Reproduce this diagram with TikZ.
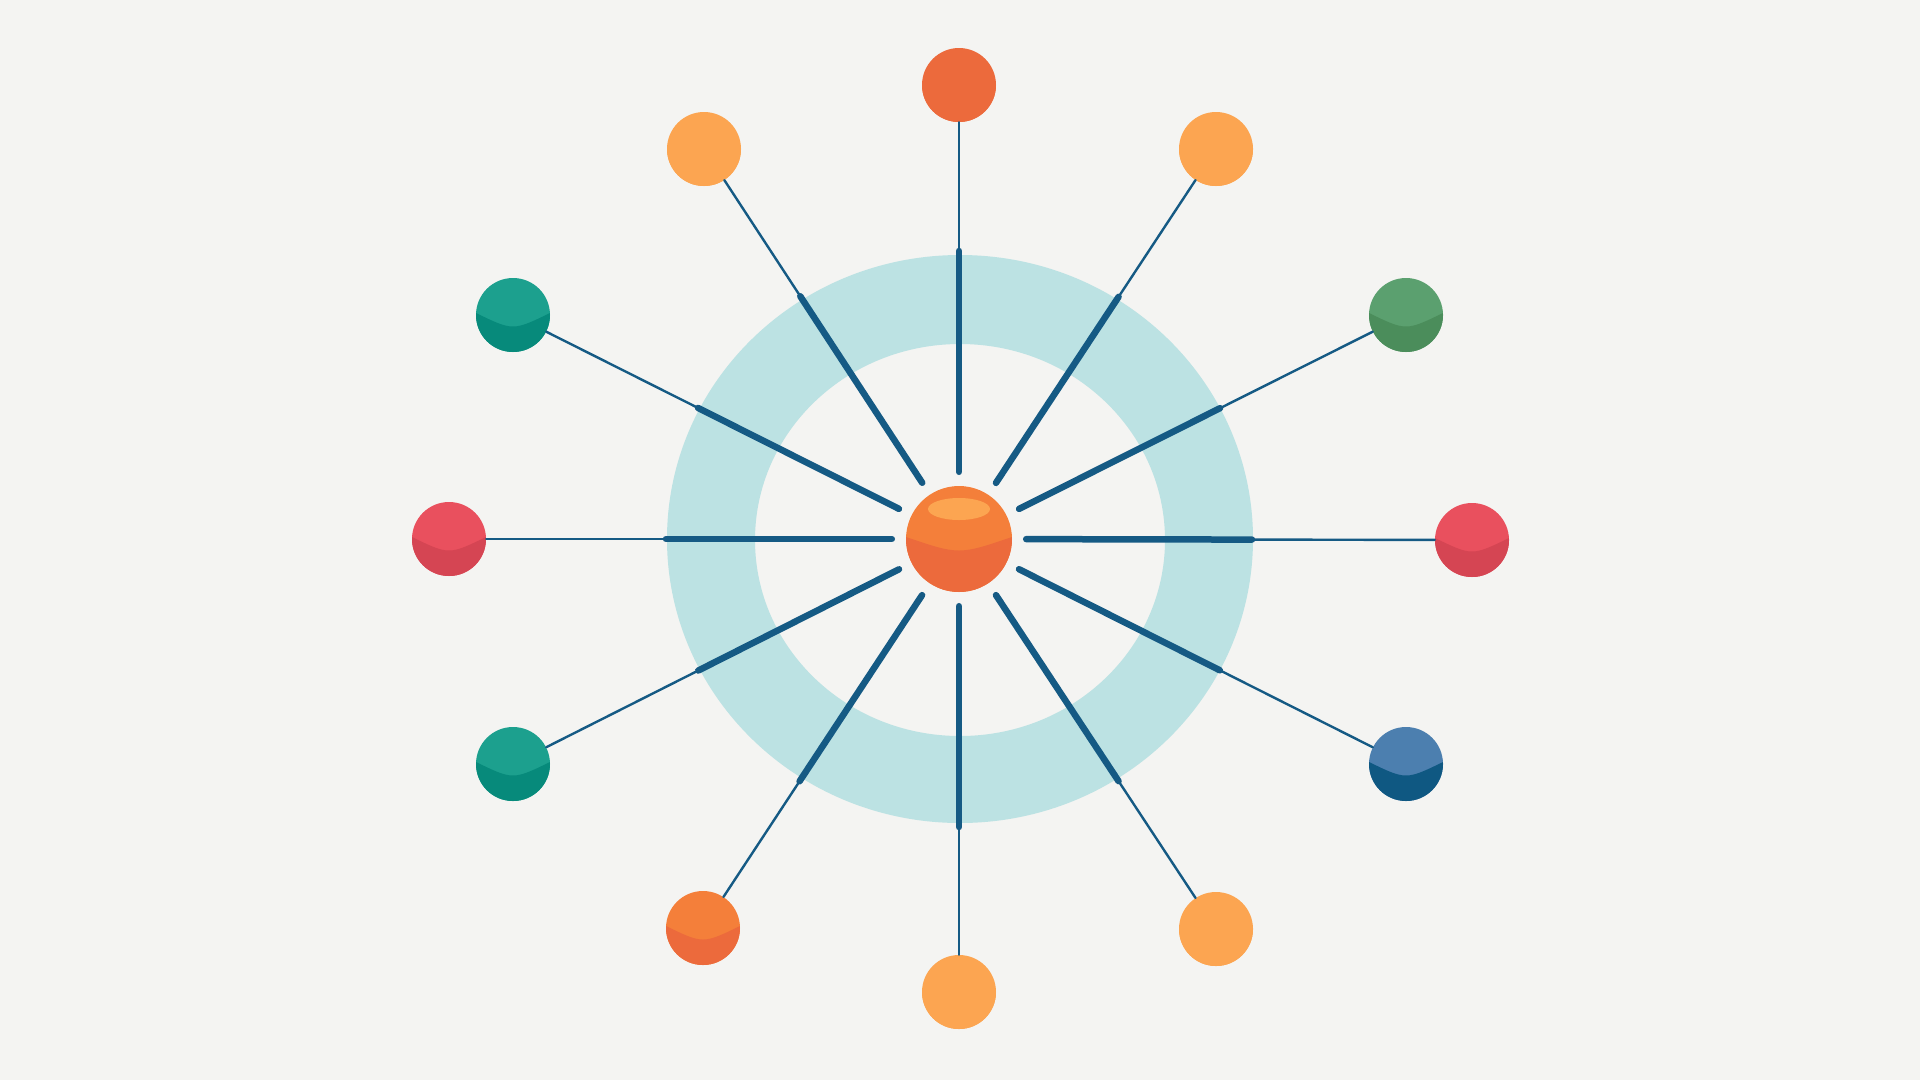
\documentclass[tikz,border=0pt]{standalone}
\usetikzlibrary{calc}

\definecolor{bgcol}{HTML}{F4F4F2}
\definecolor{ringcol}{HTML}{BCE2E3}
\definecolor{spokecol}{HTML}{155A84}
\definecolor{redorange}{HTML}{EC6A3C}
\definecolor{midorange}{HTML}{F47F3A}
\definecolor{lightorange}{HTML}{FCA551}
\definecolor{tealtop}{HTML}{1CA08E}
\definecolor{tealbot}{HTML}{078A7B}
\definecolor{greentop}{HTML}{5BA06F}
\definecolor{greenbot}{HTML}{4B8D5B}
\definecolor{pinktop}{HTML}{E9505E}
\definecolor{pinkbot}{HTML}{D54553}
\definecolor{bluetop}{HTML}{4C7FAF}
\definecolor{bluebot}{HTML}{0F5882}

\begin{document}
\begin{tikzpicture}[x=1pt,y=-1pt,line cap=round,
    ball/.style 2 args={circle,minimum size=74pt,inner sep=0pt,fill=#1,
      path picture={\fill[#2] ([yshift=2pt]path picture bounding box.west)
        .. controls ([yshift=-16pt]path picture bounding box.center) .. ([yshift=2pt]path picture bounding box.east)
        -- (path picture bounding box.south east) -- (path picture bounding box.south west) -- cycle;}},
    wire/.style={draw=spokecol,line width=2.4pt,shorten >=14pt},
    bar/.style={draw=spokecol,line width=6.5pt,shorten >=14pt}]
			% background and ring
			\fill[bgcol] (0,0) rectangle (1920,1080);
			\useasboundingbox (0,0) rectangle (1920,1080);
			\fill[ringcol,even odd rule] (960,539) ellipse [x radius=293,y radius=284]
				(960,540) ellipse [x radius=205,y radius=196];

			% hub
			\node[ball={midorange}{redorange},minimum size=106pt] (c_0) at (959,539) {};
			\fill[lightorange] (959,509) ellipse [x radius=31,y radius=11];

			% outer balls
			\node[ball={redorange}{redorange}] (c_1) at (959,85) {};
			\node[ball={lightorange}{lightorange}] (c_2) at (1216,149) {};
			\node[ball={greentop}{greenbot}] (c_3) at (1406,315) {};
			\node[ball={pinktop}{pinkbot}] (c_4) at (1472,540) {};
			\node[ball={bluetop}{bluebot}] (c_5) at (1406,764) {};
			\node[ball={lightorange}{lightorange}] (c_6) at (1216,929) {};
			\node[ball={lightorange}{lightorange}] (c_7) at (959,992) {};
			\node[ball={midorange}{redorange}] (c_8) at (703,928) {};
			\node[ball={tealtop}{tealbot}] (c_9) at (513,764) {};
			\node[ball={pinktop}{pinkbot}] (c_10) at (449,539) {};
			\node[ball={tealtop}{tealbot}] (c_11) at (513,315) {};
			\node[ball={lightorange}{lightorange}] (c_12) at (704,149) {};

			% spokes
			\path[wire]
				(c_1) edge (c_0) (c_2) edge (c_0) (c_3) edge (c_0) (c_4) edge (c_0)
				(c_5) edge (c_0) (c_6) edge (c_0) (c_7) edge (c_0) (c_8) edge (c_0)
				(c_9) edge (c_0) (c_10) edge (c_0) (c_11) edge (c_0) (c_12) edge (c_0);
			\path[bar]
				($(c_0)!288pt!(c_1)$) edge (c_0) ($(c_0)!290pt!(c_2)$) edge (c_0)
				($(c_0)!292pt!(c_3)$) edge (c_0) ($(c_0)!293pt!(c_4)$) edge (c_0)
				($(c_0)!292pt!(c_5)$) edge (c_0) ($(c_0)!290pt!(c_6)$) edge (c_0)
				($(c_0)!288pt!(c_7)$) edge (c_0) ($(c_0)!290pt!(c_8)$) edge (c_0)
				($(c_0)!292pt!(c_9)$) edge (c_0) ($(c_0)!293pt!(c_10)$) edge (c_0)
				($(c_0)!292pt!(c_11)$) edge (c_0) ($(c_0)!290pt!(c_12)$) edge (c_0);
		\end{tikzpicture}
\end{document}
